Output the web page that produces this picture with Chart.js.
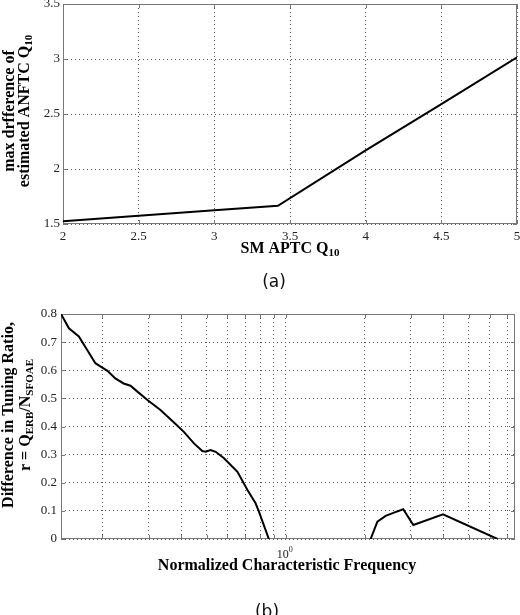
<!DOCTYPE html>
<html>
<head>
<meta charset="utf-8">
<script src="https://cdn.jsdelivr.net/npm/chart.js@4.4.0/dist/chart.umd.min.js"></script>
<style>
  html, body { margin: 0; padding: 0; background: #fff; }
  #page { position: relative; width: 520px; height: 615px; overflow: hidden; }
  .panel { position: absolute; left: 0; width: 520px; }
</style>
</head>
<body>
<div id="page">
  <div class="panel" style="top:0;height:300px"><canvas id="chartA" width="520" height="300"></canvas></div>
  <div class="panel" style="top:300px;height:315px"><canvas id="chartB" width="520" height="315"></canvas></div>
</div>
<script>
// panel (a): max difference vs SM APTC Q10
const aQ10 = [2, 2.5, 3, 3.42, 4, 4.5, 5];
const aMaxDiff = [1.525, 1.575, 1.625, 1.665, 2.17, 2.59, 3.015];
const aXTicks = [2, 2.5, 3, 3.5, 4, 4.5, 5];
const aYTicks = [1.5, 2, 2.5, 3, 3.5];

// panel (b): difference in tuning ratio vs normalized CF (two visible pieces, clipped at 0)
const bLowFreq = [0.139, 0.149, 0.1626, 0.175, 0.188, 0.197, 0.209, 0.224, 0.241, 0.256, 0.272,
  0.297, 0.333, 0.375, 0.409, 0.447, 0.481, 0.495, 0.517, 0.541, 0.582, 0.655, 0.715, 0.768, 0.791, 0.863];
const bLowDiff = [0.800, 0.749, 0.720, 0.672, 0.625, 0.613, 0.598, 0.571, 0.553, 0.545, 0.524,
  0.494, 0.459, 0.414, 0.381, 0.340, 0.313, 0.310, 0.316, 0.310, 0.287, 0.239, 0.174, 0.127, 0.097, 0.0];
const bHighFreq = [2.11, 2.239, 2.408, 2.591, 2.81, 3.07, 3.985, 6.43];
const bHighDiff = [0.0, 0.062, 0.082, 0.094, 0.106, 0.050, 0.088, 0.0];
const bXGrid = [0.2, 0.3, 0.4, 0.5, 0.6, 0.7, 0.8, 0.9, 1, 2, 3, 4, 5, 6, 7];
const bYTicks = [0, 0.1, 0.2, 0.3, 0.4, 0.5, 0.6, 0.7, 0.8];

const SERIF = "'Liberation Serif', 'Times New Roman', serif";
const SANS = "'DejaVu Sans', sans-serif";
const BOX = '#777';
const GRID = '#555';

function pts(xs, ys) {
  return xs.map((x, i) => ({ x: x, y: ys[i] }));
}

// draws a string made of pieces (normal / sub / superscript), centred on cx,cy
function drawRich(ctx, parts, cx, cy, rotate) {
  ctx.save();
  ctx.translate(cx, cy);
  if (rotate) ctx.rotate(-Math.PI / 2);
  ctx.textBaseline = 'middle';
  ctx.textAlign = 'left';
  let total = 0;
  parts.forEach(p => {
    ctx.font = p.font;
    p.w = ctx.measureText(p.text).width;
    total += p.w;
  });
  let x = -total / 2;
  parts.forEach(p => {
    ctx.font = p.font;
    ctx.fillStyle = p.color || '#000';
    ctx.fillText(p.text, x, p.dy || 0);
    x += p.w;
  });
  ctx.restore();
}

const T = `bold 16px ${SERIF}`;
const S = `bold 11px ${SERIF}`;

// box round the plot, inward tick marks, and the titles
const framePlugin = {
  id: 'frame',
  beforeDatasetsDraw(chart) {
    const { ctx, chartArea: a, scales } = chart;
    ctx.save();
    ctx.strokeStyle = BOX;
    ctx.lineWidth = 1;
    ctx.beginPath();
    scales.x.ticks.forEach(t => {
      const px = Math.round(scales.x.getPixelForValue(t.value)) + 0.5;
      ctx.moveTo(px, a.bottom); ctx.lineTo(px, a.bottom - 4);
      ctx.moveTo(px, a.top); ctx.lineTo(px, a.top + 4);
    });
    scales.y.ticks.forEach(t => {
      const py = Math.round(scales.y.getPixelForValue(t.value)) + 0.5;
      ctx.moveTo(a.left, py); ctx.lineTo(a.left + 4, py);
      ctx.moveTo(a.right, py); ctx.lineTo(a.right - 4, py);
    });
    ctx.stroke();
    ctx.strokeRect(Math.round(a.left) + 0.5, Math.round(a.top) + 0.5,
      Math.round(a.width) - 1, Math.round(a.height) - 1);
    ctx.restore();
  },
  afterDraw(chart, args, opts) {
    const ctx = chart.ctx;
    (opts.texts || []).forEach(t => drawRich(ctx, t.parts, t.x, t.y, t.rotate));
    if (opts.decadeLabel) {
      const px = chart.scales.x.getPixelForValue(1);
      drawRich(ctx, [
        { text: '10', font: `12px ${SERIF}`, color: '#222' },
        { text: '0', font: `8px ${SERIF}`, color: '#222', dy: -5 }
      ], px - 1, chart.chartArea.bottom + 16, false);
    }
  }
};

function baseScale(min, max, padding) {
  return {
    min: min,
    max: max,
    grid: { color: GRID, lineWidth: 1, drawTicks: false },
    border: { display: false, dash: [1, 3] },
    ticks: {
      color: '#222',
      padding: padding,
      autoSkip: false,
      maxRotation: 0,
      font: { family: SERIF, size: 13 }
    }
  };
}

function makeY(min, max, tickVals, width, padding) {
  const s = baseScale(min, max, padding);
  s.afterBuildTicks = axis => { axis.ticks = tickVals.map(v => ({ value: v })); };
  s.ticks.callback = v => String(v);
  s.afterFit = axis => { axis.width = width; axis.paddingTop = 0; axis.paddingBottom = 0; };
  return s;
}

function makeX(type, min, max, tickVals, labelFn) {
  const s = baseScale(min, max, 5);
  s.type = type;
  s.afterBuildTicks = axis => { axis.ticks = tickVals.map(v => ({ value: v })); };
  s.ticks.callback = labelFn;
  s.afterFit = axis => { axis.height = 20; axis.paddingLeft = 0; axis.paddingRight = 0; };
  return s;
}

const lineStyle = {
  borderColor: '#000',
  borderWidth: 2,
  pointRadius: 0,
  tension: 0,
  fill: false
};

new Chart(document.getElementById('chartA'), {
  type: 'line',
  data: {
    datasets: [Object.assign({ label: 'max difference', data: pts(aQ10, aMaxDiff) }, lineStyle)]
  },
  options: {
    responsive: false,
    animation: false,
    layout: { padding: { left: 0, right: 3, top: 4, bottom: 56 } },
    scales: {
      x: makeX('linear', 2, 5, aXTicks, v => String(v)),
      y: makeY(1.5, 3.5, aYTicks, 63, 3)
    },
    plugins: {
      legend: { display: false },
      tooltip: { enabled: false },
      frame: {
        texts: [
          { x: 290, y: 249, parts: [{ text: 'SM APTC Q', font: T }, { text: '10', font: S, dy: 4 }] },
          { x: 10, y: 111, rotate: true, parts: [{ text: 'max drfference of', font: T }] },
          { x: 25, y: 111, rotate: true, parts: [{ text: 'estimated ANFTC Q', font: T }, { text: '10', font: S, dy: 4 }] },
          { x: 274, y: 283, parts: [{ text: '(a)', font: `17px ${SANS}`, color: '#111' }] }
        ]
      }
    }
  },
  plugins: [framePlugin]
});

new Chart(document.getElementById('chartB'), {
  type: 'line',
  data: {
    datasets: [
      Object.assign({ label: 'low CF', data: pts(bLowFreq, bLowDiff) }, lineStyle),
      Object.assign({ label: 'high CF', data: pts(bHighFreq, bHighDiff) }, lineStyle)
    ]
  },
  options: {
    responsive: false,
    animation: false,
    layout: { padding: { left: 0, right: 5, top: 14, bottom: 56 } },
    scales: {
      x: makeX('logarithmic', 0.139, 7.5, bXGrid, () => ''),
      y: makeY(0, 0.8, bYTicks, 61, 4)
    },
    plugins: {
      legend: { display: false },
      tooltip: { enabled: false },
      frame: {
        decadeLabel: true,
        texts: [
          { x: 287, y: 266, parts: [{ text: 'Normalized Characteristic Frequency', font: T }] },
          { x: 9, y: 115, rotate: true, parts: [{ text: 'Difference in Tuning Ratio,', font: T }] },
          { x: 26, y: 115, rotate: true, parts: [
            { text: 'r = Q', font: T },
            { text: 'ERB', font: S, dy: 4 },
            { text: '/N', font: T },
            { text: 'SFOAE', font: S, dy: 4 }
          ] },
          { x: 267, y: 313, parts: [{ text: '(b)', font: `17px ${SANS}`, color: '#111' }] }
        ]
      }
    }
  },
  plugins: [framePlugin]
});
</script>
</body>
</html>
